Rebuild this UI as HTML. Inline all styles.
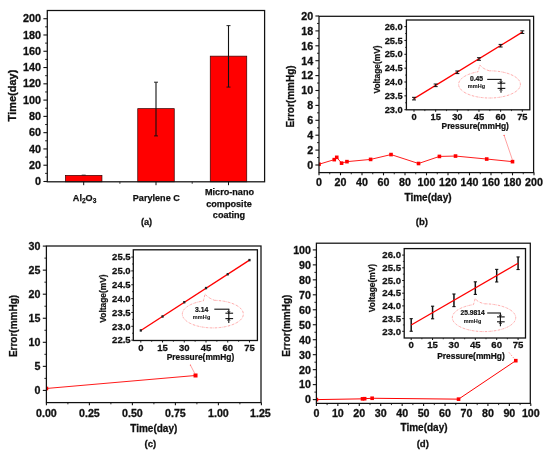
<!DOCTYPE html>
<html><head><meta charset="utf-8"><title>Figure</title>
<style>
html,body{margin:0;padding:0;background:#fff;}
body{width:550px;height:457px;overflow:hidden;}
svg{display:block;font-family:"Liberation Sans",Arial,sans-serif;filter:blur(0.4px);}
</style></head><body>
<svg width="550" height="457" viewBox="0 0 550 457">
<rect x="0" y="0" width="550" height="457" fill="#fff"/>
<rect x="65.45" y="175.40" width="36.50" height="6.41" fill="#f00" stroke="#300" stroke-width="0.7"/>
<rect x="137.75" y="108.65" width="36.50" height="73.15" fill="#f00" stroke="#300" stroke-width="0.7"/>
<rect x="210.25" y="56.14" width="36.50" height="125.66" fill="#f00" stroke="#300" stroke-width="0.7"/>
<line x1="81.70" y1="175.00" x2="85.70" y2="175.00" stroke="#111" stroke-width="0.6" />
<line x1="156.00" y1="135.92" x2="156.00" y2="82.19" stroke="#111" stroke-width="1.1" />
<line x1="154.00" y1="135.92" x2="158.00" y2="135.92" stroke="#111" stroke-width="0.9" />
<line x1="154.00" y1="82.19" x2="158.00" y2="82.19" stroke="#111" stroke-width="0.9" />
<line x1="228.50" y1="87.08" x2="228.50" y2="25.62" stroke="#111" stroke-width="1.1" />
<line x1="226.50" y1="87.08" x2="230.50" y2="87.08" stroke="#111" stroke-width="0.9" />
<line x1="226.50" y1="25.62" x2="230.50" y2="25.62" stroke="#111" stroke-width="0.9" />
<rect x="47.30" y="10.50" width="217.30" height="171.30" fill="none" stroke="#111" stroke-width="1.25"/>
<line x1="43.40" y1="181.50" x2="47.30" y2="181.50" stroke="#111" stroke-width="1.1" />
<text x="41.00" y="185.09" font-size="10.8" text-anchor="end" font-weight="bold" fill="#111" stroke="#111" stroke-width="0.30" >0</text>
<line x1="45.10" y1="173.36" x2="47.30" y2="173.36" stroke="#111" stroke-width="0.9" />
<line x1="43.40" y1="165.22" x2="47.30" y2="165.22" stroke="#111" stroke-width="1.1" />
<text x="41.00" y="168.81" font-size="10.8" text-anchor="end" font-weight="bold" fill="#111" stroke="#111" stroke-width="0.30" >20</text>
<line x1="45.10" y1="157.08" x2="47.30" y2="157.08" stroke="#111" stroke-width="0.9" />
<line x1="43.40" y1="148.94" x2="47.30" y2="148.94" stroke="#111" stroke-width="1.1" />
<text x="41.00" y="152.53" font-size="10.8" text-anchor="end" font-weight="bold" fill="#111" stroke="#111" stroke-width="0.30" >40</text>
<line x1="45.10" y1="140.80" x2="47.30" y2="140.80" stroke="#111" stroke-width="0.9" />
<line x1="43.40" y1="132.66" x2="47.30" y2="132.66" stroke="#111" stroke-width="1.1" />
<text x="41.00" y="136.25" font-size="10.8" text-anchor="end" font-weight="bold" fill="#111" stroke="#111" stroke-width="0.30" >60</text>
<line x1="45.10" y1="124.52" x2="47.30" y2="124.52" stroke="#111" stroke-width="0.9" />
<line x1="43.40" y1="116.38" x2="47.30" y2="116.38" stroke="#111" stroke-width="1.1" />
<text x="41.00" y="119.97" font-size="10.8" text-anchor="end" font-weight="bold" fill="#111" stroke="#111" stroke-width="0.30" >80</text>
<line x1="45.10" y1="108.24" x2="47.30" y2="108.24" stroke="#111" stroke-width="0.9" />
<line x1="43.40" y1="100.10" x2="47.30" y2="100.10" stroke="#111" stroke-width="1.1" />
<text x="41.00" y="103.69" font-size="10.8" text-anchor="end" font-weight="bold" fill="#111" stroke="#111" stroke-width="0.30" >100</text>
<line x1="45.10" y1="91.96" x2="47.30" y2="91.96" stroke="#111" stroke-width="0.9" />
<line x1="43.40" y1="83.82" x2="47.30" y2="83.82" stroke="#111" stroke-width="1.1" />
<text x="41.00" y="87.41" font-size="10.8" text-anchor="end" font-weight="bold" fill="#111" stroke="#111" stroke-width="0.30" >120</text>
<line x1="45.10" y1="75.68" x2="47.30" y2="75.68" stroke="#111" stroke-width="0.9" />
<line x1="43.40" y1="67.54" x2="47.30" y2="67.54" stroke="#111" stroke-width="1.1" />
<text x="41.00" y="71.13" font-size="10.8" text-anchor="end" font-weight="bold" fill="#111" stroke="#111" stroke-width="0.30" >140</text>
<line x1="45.10" y1="59.40" x2="47.30" y2="59.40" stroke="#111" stroke-width="0.9" />
<line x1="43.40" y1="51.26" x2="47.30" y2="51.26" stroke="#111" stroke-width="1.1" />
<text x="41.00" y="54.85" font-size="10.8" text-anchor="end" font-weight="bold" fill="#111" stroke="#111" stroke-width="0.30" >160</text>
<line x1="45.10" y1="43.12" x2="47.30" y2="43.12" stroke="#111" stroke-width="0.9" />
<line x1="43.40" y1="34.98" x2="47.30" y2="34.98" stroke="#111" stroke-width="1.1" />
<text x="41.00" y="38.57" font-size="10.8" text-anchor="end" font-weight="bold" fill="#111" stroke="#111" stroke-width="0.30" >180</text>
<line x1="45.10" y1="26.84" x2="47.30" y2="26.84" stroke="#111" stroke-width="0.9" />
<line x1="43.40" y1="18.70" x2="47.30" y2="18.70" stroke="#111" stroke-width="1.1" />
<text x="41.00" y="22.29" font-size="10.8" text-anchor="end" font-weight="bold" fill="#111" stroke="#111" stroke-width="0.30" >200</text>
<line x1="83.70" y1="181.80" x2="83.70" y2="185.20" stroke="#111" stroke-width="1.0" />
<line x1="156.00" y1="181.80" x2="156.00" y2="185.20" stroke="#111" stroke-width="1.0" />
<line x1="228.50" y1="181.80" x2="228.50" y2="185.20" stroke="#111" stroke-width="1.0" />
<line x1="119.90" y1="181.80" x2="119.90" y2="183.80" stroke="#111" stroke-width="0.8" />
<line x1="192.20" y1="181.80" x2="192.20" y2="183.80" stroke="#111" stroke-width="0.8" />
<text transform="translate(16.00 95.50) rotate(-90)" font-size="11" text-anchor="middle" font-weight="bold" fill="#111" stroke="#111" stroke-width="0.31" >Time(day)</text>
<text x="84.60" y="201.40" font-size="9.1" text-anchor="middle" font-weight="bold" fill="#111" stroke="#111" stroke-width="0.25" >Al<tspan font-size="6.6" dy="1.8">2</tspan><tspan dy="-1.8">O</tspan><tspan font-size="6.6" dy="1.8">3</tspan></text>
<text x="156.30" y="201.30" font-size="9.1" text-anchor="middle" font-weight="bold" fill="#111" stroke="#111" stroke-width="0.25" >Parylene C</text>
<text x="229.50" y="195.30" font-size="9.1" text-anchor="middle" font-weight="bold" fill="#111" stroke="#111" stroke-width="0.25" >Micro-nano</text>
<text x="229.00" y="206.80" font-size="9.1" text-anchor="middle" font-weight="bold" fill="#111" stroke="#111" stroke-width="0.25" >composite</text>
<text x="229.00" y="218.40" font-size="9.1" text-anchor="middle" font-weight="bold" fill="#111" stroke="#111" stroke-width="0.25" >coating</text>
<text x="146.50" y="225.40" font-size="9.2" text-anchor="middle" font-weight="bold" fill="#111" stroke="#111" stroke-width="0.26" >(a)</text>
<clipPath id="cp1"><rect x="319.00" y="16.30" width="214.60" height="156.30"/></clipPath><g clip-path="url(#cp1)">
<polyline fill="none" stroke="#f00" stroke-width="0.9" points="319.00,164.25 334.26,159.64 336.74,157.33 341.57,163.14 346.95,161.65 370.60,159.41 391.02,154.57 418.54,163.51 439.40,156.43 455.52,156.06 486.70,159.04 512.50,161.65"/>
<rect x="317.20" y="162.45" width="3.6" height="3.6" fill="#f00"/>
<rect x="332.46" y="157.84" width="3.6" height="3.6" fill="#f00"/>
<rect x="334.94" y="155.53" width="3.6" height="3.6" fill="#f00"/>
<rect x="339.77" y="161.34" width="3.6" height="3.6" fill="#f00"/>
<rect x="345.15" y="159.85" width="3.6" height="3.6" fill="#f00"/>
<rect x="368.80" y="157.61" width="3.6" height="3.6" fill="#f00"/>
<rect x="389.22" y="152.77" width="3.6" height="3.6" fill="#f00"/>
<rect x="416.74" y="161.71" width="3.6" height="3.6" fill="#f00"/>
<rect x="437.60" y="154.63" width="3.6" height="3.6" fill="#f00"/>
<rect x="453.72" y="154.26" width="3.6" height="3.6" fill="#f00"/>
<rect x="484.90" y="157.24" width="3.6" height="3.6" fill="#f00"/>
<rect x="510.70" y="159.85" width="3.6" height="3.6" fill="#f00"/>
</g>
<rect x="319.00" y="16.30" width="214.60" height="156.30" fill="none" stroke="#111" stroke-width="1.25"/>
<line x1="315.40" y1="165.00" x2="319.00" y2="165.00" stroke="#111" stroke-width="1.1" />
<text x="313.20" y="168.85" font-size="10.7" text-anchor="end" font-weight="bold" fill="#111" stroke="#111" stroke-width="0.30" >0</text>
<line x1="317.00" y1="157.55" x2="319.00" y2="157.55" stroke="#111" stroke-width="0.9" />
<line x1="315.40" y1="150.10" x2="319.00" y2="150.10" stroke="#111" stroke-width="1.1" />
<text x="313.20" y="153.95" font-size="10.7" text-anchor="end" font-weight="bold" fill="#111" stroke="#111" stroke-width="0.30" >2</text>
<line x1="317.00" y1="142.65" x2="319.00" y2="142.65" stroke="#111" stroke-width="0.9" />
<line x1="315.40" y1="135.20" x2="319.00" y2="135.20" stroke="#111" stroke-width="1.1" />
<text x="313.20" y="139.05" font-size="10.7" text-anchor="end" font-weight="bold" fill="#111" stroke="#111" stroke-width="0.30" >4</text>
<line x1="317.00" y1="127.75" x2="319.00" y2="127.75" stroke="#111" stroke-width="0.9" />
<line x1="315.40" y1="120.30" x2="319.00" y2="120.30" stroke="#111" stroke-width="1.1" />
<text x="313.20" y="124.15" font-size="10.7" text-anchor="end" font-weight="bold" fill="#111" stroke="#111" stroke-width="0.30" >6</text>
<line x1="317.00" y1="112.85" x2="319.00" y2="112.85" stroke="#111" stroke-width="0.9" />
<line x1="315.40" y1="105.40" x2="319.00" y2="105.40" stroke="#111" stroke-width="1.1" />
<text x="313.20" y="109.25" font-size="10.7" text-anchor="end" font-weight="bold" fill="#111" stroke="#111" stroke-width="0.30" >8</text>
<line x1="317.00" y1="97.95" x2="319.00" y2="97.95" stroke="#111" stroke-width="0.9" />
<line x1="315.40" y1="90.50" x2="319.00" y2="90.50" stroke="#111" stroke-width="1.1" />
<text x="313.20" y="94.35" font-size="10.7" text-anchor="end" font-weight="bold" fill="#111" stroke="#111" stroke-width="0.30" >10</text>
<line x1="317.00" y1="83.05" x2="319.00" y2="83.05" stroke="#111" stroke-width="0.9" />
<line x1="315.40" y1="75.60" x2="319.00" y2="75.60" stroke="#111" stroke-width="1.1" />
<text x="313.20" y="79.45" font-size="10.7" text-anchor="end" font-weight="bold" fill="#111" stroke="#111" stroke-width="0.30" >12</text>
<line x1="317.00" y1="68.15" x2="319.00" y2="68.15" stroke="#111" stroke-width="0.9" />
<line x1="315.40" y1="60.70" x2="319.00" y2="60.70" stroke="#111" stroke-width="1.1" />
<text x="313.20" y="64.55" font-size="10.7" text-anchor="end" font-weight="bold" fill="#111" stroke="#111" stroke-width="0.30" >14</text>
<line x1="317.00" y1="53.25" x2="319.00" y2="53.25" stroke="#111" stroke-width="0.9" />
<line x1="315.40" y1="45.80" x2="319.00" y2="45.80" stroke="#111" stroke-width="1.1" />
<text x="313.20" y="49.65" font-size="10.7" text-anchor="end" font-weight="bold" fill="#111" stroke="#111" stroke-width="0.30" >16</text>
<line x1="317.00" y1="38.35" x2="319.00" y2="38.35" stroke="#111" stroke-width="0.9" />
<line x1="315.40" y1="30.90" x2="319.00" y2="30.90" stroke="#111" stroke-width="1.1" />
<text x="313.20" y="34.75" font-size="10.7" text-anchor="end" font-weight="bold" fill="#111" stroke="#111" stroke-width="0.30" >18</text>
<line x1="317.00" y1="23.45" x2="319.00" y2="23.45" stroke="#111" stroke-width="0.9" />
<line x1="315.40" y1="16.00" x2="319.00" y2="16.00" stroke="#111" stroke-width="1.1" />
<text x="313.20" y="19.85" font-size="10.7" text-anchor="end" font-weight="bold" fill="#111" stroke="#111" stroke-width="0.30" >20</text>
<line x1="319.00" y1="172.60" x2="319.00" y2="175.30" stroke="#111" stroke-width="1.1" />
<text x="319.00" y="186.25" font-size="10.7" text-anchor="middle" font-weight="bold" fill="#111" stroke="#111" stroke-width="0.30" >0</text>
<line x1="329.75" y1="172.60" x2="329.75" y2="174.30" stroke="#111" stroke-width="0.9" />
<line x1="340.50" y1="172.60" x2="340.50" y2="175.30" stroke="#111" stroke-width="1.1" />
<text x="340.50" y="186.25" font-size="10.7" text-anchor="middle" font-weight="bold" fill="#111" stroke="#111" stroke-width="0.30" >20</text>
<line x1="351.25" y1="172.60" x2="351.25" y2="174.30" stroke="#111" stroke-width="0.9" />
<line x1="362.00" y1="172.60" x2="362.00" y2="175.30" stroke="#111" stroke-width="1.1" />
<text x="362.00" y="186.25" font-size="10.7" text-anchor="middle" font-weight="bold" fill="#111" stroke="#111" stroke-width="0.30" >40</text>
<line x1="372.75" y1="172.60" x2="372.75" y2="174.30" stroke="#111" stroke-width="0.9" />
<line x1="383.50" y1="172.60" x2="383.50" y2="175.30" stroke="#111" stroke-width="1.1" />
<text x="383.50" y="186.25" font-size="10.7" text-anchor="middle" font-weight="bold" fill="#111" stroke="#111" stroke-width="0.30" >60</text>
<line x1="394.25" y1="172.60" x2="394.25" y2="174.30" stroke="#111" stroke-width="0.9" />
<line x1="405.00" y1="172.60" x2="405.00" y2="175.30" stroke="#111" stroke-width="1.1" />
<text x="405.00" y="186.25" font-size="10.7" text-anchor="middle" font-weight="bold" fill="#111" stroke="#111" stroke-width="0.30" >80</text>
<line x1="415.75" y1="172.60" x2="415.75" y2="174.30" stroke="#111" stroke-width="0.9" />
<line x1="426.50" y1="172.60" x2="426.50" y2="175.30" stroke="#111" stroke-width="1.1" />
<text x="426.50" y="186.25" font-size="10.7" text-anchor="middle" font-weight="bold" fill="#111" stroke="#111" stroke-width="0.30" >100</text>
<line x1="437.25" y1="172.60" x2="437.25" y2="174.30" stroke="#111" stroke-width="0.9" />
<line x1="448.00" y1="172.60" x2="448.00" y2="175.30" stroke="#111" stroke-width="1.1" />
<text x="448.00" y="186.25" font-size="10.7" text-anchor="middle" font-weight="bold" fill="#111" stroke="#111" stroke-width="0.30" >120</text>
<line x1="458.75" y1="172.60" x2="458.75" y2="174.30" stroke="#111" stroke-width="0.9" />
<line x1="469.50" y1="172.60" x2="469.50" y2="175.30" stroke="#111" stroke-width="1.1" />
<text x="469.50" y="186.25" font-size="10.7" text-anchor="middle" font-weight="bold" fill="#111" stroke="#111" stroke-width="0.30" >140</text>
<line x1="480.25" y1="172.60" x2="480.25" y2="174.30" stroke="#111" stroke-width="0.9" />
<line x1="491.00" y1="172.60" x2="491.00" y2="175.30" stroke="#111" stroke-width="1.1" />
<text x="491.00" y="186.25" font-size="10.7" text-anchor="middle" font-weight="bold" fill="#111" stroke="#111" stroke-width="0.30" >160</text>
<line x1="501.75" y1="172.60" x2="501.75" y2="174.30" stroke="#111" stroke-width="0.9" />
<line x1="512.50" y1="172.60" x2="512.50" y2="175.30" stroke="#111" stroke-width="1.1" />
<text x="512.50" y="186.25" font-size="10.7" text-anchor="middle" font-weight="bold" fill="#111" stroke="#111" stroke-width="0.30" >180</text>
<line x1="523.25" y1="172.60" x2="523.25" y2="174.30" stroke="#111" stroke-width="0.9" />
<line x1="534.00" y1="172.60" x2="534.00" y2="175.30" stroke="#111" stroke-width="1.1" />
<text x="534.00" y="186.25" font-size="10.7" text-anchor="middle" font-weight="bold" fill="#111" stroke="#111" stroke-width="0.30" >200</text>
<text transform="translate(293.50 96.50) rotate(-90)" font-size="10" text-anchor="middle" font-weight="bold" fill="#111" stroke="#111" stroke-width="0.28" >Error(mmHg)</text>
<text x="428.00" y="201.20" font-size="10" text-anchor="middle" font-weight="bold" fill="#111" stroke="#111" stroke-width="0.28" >Time(day)</text>
<text x="421.90" y="225.20" font-size="9.6" text-anchor="middle" font-weight="bold" fill="#111" stroke="#111" stroke-width="0.27" >(b)</text>
<line x1="504.10" y1="135.40" x2="512.50" y2="160.15" stroke="#f44" stroke-width="0.5" />
<circle cx="504.1" cy="135.4" r="0.6" fill="#f44"/>
<rect x="406.40" y="20.00" width="123.40" height="89.80" fill="#fff" stroke="#111" stroke-width="1.3"/>
<line x1="404.40" y1="109.70" x2="406.40" y2="109.70" stroke="#111" stroke-width="1.0" />
<text x="402.80" y="112.85" font-size="9.3" text-anchor="end" font-weight="bold" fill="#111" stroke="#111" stroke-width="0.26" >23.0</text>
<line x1="405.10" y1="102.78" x2="406.40" y2="102.78" stroke="#111" stroke-width="0.8" />
<line x1="404.40" y1="95.85" x2="406.40" y2="95.85" stroke="#111" stroke-width="1.0" />
<text x="402.80" y="99.00" font-size="9.3" text-anchor="end" font-weight="bold" fill="#111" stroke="#111" stroke-width="0.26" >23.5</text>
<line x1="405.10" y1="88.93" x2="406.40" y2="88.93" stroke="#111" stroke-width="0.8" />
<line x1="404.40" y1="82.00" x2="406.40" y2="82.00" stroke="#111" stroke-width="1.0" />
<text x="402.80" y="85.15" font-size="9.3" text-anchor="end" font-weight="bold" fill="#111" stroke="#111" stroke-width="0.26" >24.0</text>
<line x1="405.10" y1="75.08" x2="406.40" y2="75.08" stroke="#111" stroke-width="0.8" />
<line x1="404.40" y1="68.15" x2="406.40" y2="68.15" stroke="#111" stroke-width="1.0" />
<text x="402.80" y="71.30" font-size="9.3" text-anchor="end" font-weight="bold" fill="#111" stroke="#111" stroke-width="0.26" >24.5</text>
<line x1="405.10" y1="61.23" x2="406.40" y2="61.23" stroke="#111" stroke-width="0.8" />
<line x1="404.40" y1="54.30" x2="406.40" y2="54.30" stroke="#111" stroke-width="1.0" />
<text x="402.80" y="57.45" font-size="9.3" text-anchor="end" font-weight="bold" fill="#111" stroke="#111" stroke-width="0.26" >25.0</text>
<line x1="405.10" y1="47.38" x2="406.40" y2="47.38" stroke="#111" stroke-width="0.8" />
<line x1="404.40" y1="40.45" x2="406.40" y2="40.45" stroke="#111" stroke-width="1.0" />
<text x="402.80" y="43.60" font-size="9.3" text-anchor="end" font-weight="bold" fill="#111" stroke="#111" stroke-width="0.26" >25.5</text>
<line x1="405.10" y1="33.53" x2="406.40" y2="33.53" stroke="#111" stroke-width="0.8" />
<line x1="404.40" y1="26.60" x2="406.40" y2="26.60" stroke="#111" stroke-width="1.0" />
<text x="402.80" y="29.75" font-size="9.3" text-anchor="end" font-weight="bold" fill="#111" stroke="#111" stroke-width="0.26" >26.0</text>
<line x1="414.00" y1="109.80" x2="414.00" y2="111.80" stroke="#111" stroke-width="1.0" />
<text x="414.00" y="120.45" font-size="9.3" text-anchor="middle" font-weight="bold" fill="#111" stroke="#111" stroke-width="0.26" >0</text>
<line x1="424.83" y1="109.80" x2="424.83" y2="111.10" stroke="#111" stroke-width="0.8" />
<line x1="435.66" y1="109.80" x2="435.66" y2="111.80" stroke="#111" stroke-width="1.0" />
<text x="435.66" y="120.45" font-size="9.3" text-anchor="middle" font-weight="bold" fill="#111" stroke="#111" stroke-width="0.26" >15</text>
<line x1="446.49" y1="109.80" x2="446.49" y2="111.10" stroke="#111" stroke-width="0.8" />
<line x1="457.32" y1="109.80" x2="457.32" y2="111.80" stroke="#111" stroke-width="1.0" />
<text x="457.32" y="120.45" font-size="9.3" text-anchor="middle" font-weight="bold" fill="#111" stroke="#111" stroke-width="0.26" >30</text>
<line x1="468.15" y1="109.80" x2="468.15" y2="111.10" stroke="#111" stroke-width="0.8" />
<line x1="478.98" y1="109.80" x2="478.98" y2="111.80" stroke="#111" stroke-width="1.0" />
<text x="478.98" y="120.45" font-size="9.3" text-anchor="middle" font-weight="bold" fill="#111" stroke="#111" stroke-width="0.26" >45</text>
<line x1="489.81" y1="109.80" x2="489.81" y2="111.10" stroke="#111" stroke-width="0.8" />
<line x1="500.64" y1="109.80" x2="500.64" y2="111.80" stroke="#111" stroke-width="1.0" />
<text x="500.64" y="120.45" font-size="9.3" text-anchor="middle" font-weight="bold" fill="#111" stroke="#111" stroke-width="0.26" >60</text>
<line x1="511.47" y1="109.80" x2="511.47" y2="111.10" stroke="#111" stroke-width="0.8" />
<line x1="522.30" y1="109.80" x2="522.30" y2="111.80" stroke="#111" stroke-width="1.0" />
<text x="522.30" y="120.45" font-size="9.3" text-anchor="middle" font-weight="bold" fill="#111" stroke="#111" stroke-width="0.26" >75</text>
<text transform="translate(379.50 69.50) rotate(-90)" font-size="8.35" text-anchor="middle" font-weight="bold" fill="#111" stroke="#111" stroke-width="0.23" >Voltage(mV)</text>
<text x="475.20" y="128.91" font-size="8.35" text-anchor="middle" font-weight="bold" fill="#111" stroke="#111" stroke-width="0.23" >Pressure(mmHg)</text>
<line x1="414.00" y1="98.62" x2="522.30" y2="32.14" stroke="#f00" stroke-width="1.3" />
<line x1="414.00" y1="97.32" x2="414.00" y2="99.92" stroke="#111" stroke-width="1.1" />
<line x1="412.00" y1="97.32" x2="416.00" y2="97.32" stroke="#111" stroke-width="1.0" />
<line x1="412.00" y1="99.92" x2="416.00" y2="99.92" stroke="#111" stroke-width="1.0" />
<line x1="435.66" y1="84.02" x2="435.66" y2="86.62" stroke="#111" stroke-width="1.1" />
<line x1="433.66" y1="84.02" x2="437.66" y2="84.02" stroke="#111" stroke-width="1.0" />
<line x1="433.66" y1="86.62" x2="437.66" y2="86.62" stroke="#111" stroke-width="1.0" />
<line x1="457.32" y1="71.00" x2="457.32" y2="73.60" stroke="#111" stroke-width="1.1" />
<line x1="455.32" y1="71.00" x2="459.32" y2="71.00" stroke="#111" stroke-width="1.0" />
<line x1="455.32" y1="73.60" x2="459.32" y2="73.60" stroke="#111" stroke-width="1.0" />
<line x1="478.98" y1="57.71" x2="478.98" y2="60.31" stroke="#111" stroke-width="1.1" />
<line x1="476.98" y1="57.71" x2="480.98" y2="57.71" stroke="#111" stroke-width="1.0" />
<line x1="476.98" y1="60.31" x2="480.98" y2="60.31" stroke="#111" stroke-width="1.0" />
<line x1="500.64" y1="44.41" x2="500.64" y2="47.01" stroke="#111" stroke-width="1.1" />
<line x1="498.64" y1="44.41" x2="502.64" y2="44.41" stroke="#111" stroke-width="1.0" />
<line x1="498.64" y1="47.01" x2="502.64" y2="47.01" stroke="#111" stroke-width="1.0" />
<line x1="522.30" y1="30.84" x2="522.30" y2="33.44" stroke="#111" stroke-width="1.1" />
<line x1="520.30" y1="30.84" x2="524.30" y2="30.84" stroke="#111" stroke-width="1.0" />
<line x1="520.30" y1="33.44" x2="524.30" y2="33.44" stroke="#111" stroke-width="1.0" />
<path d="M489.30 70.80 A30.90 13.60 0 1 1 478.00 71.78 Q479.00 68.29 479.80 64.80 Q482.30 68.60 489.30 70.80" fill="#fff" stroke="#f44" stroke-width="0.6" stroke-dasharray="2.2 0.8 0.6 0.8" opacity="0.75"/>
<text x="476.50" y="81.45" font-size="6.8" text-anchor="middle" font-weight="bold" fill="#111" stroke="#111" stroke-width="0.20" >0.45</text>
<text x="476.50" y="87.98" font-size="5.5" text-anchor="middle" font-weight="bold" fill="#111" stroke="#111" stroke-width="0.08" letter-spacing="0.15">mmHg</text>
<line x1="487.20" y1="79.40" x2="501.50" y2="79.40" stroke="#111" stroke-width="1.1" />
<line x1="501.00" y1="79.40" x2="501.00" y2="92.80" stroke="#111" stroke-width="1.1" />
<line x1="497.60" y1="83.20" x2="505.30" y2="83.20" stroke="#111" stroke-width="1.1" />
<line x1="497.60" y1="88.40" x2="505.30" y2="88.40" stroke="#111" stroke-width="1.1" />
<path d="M499.70 81.00 L501.00 83.20 L502.30 81.00 M499.70 90.60 L501.00 88.40 L502.30 90.60" stroke="#111" stroke-width="0.7" fill="none"/>
<clipPath id="cp2"><rect x="46.40" y="246.00" width="214.60" height="156.60"/></clipPath><g clip-path="url(#cp2)">
<polyline fill="none" stroke="#f00" stroke-width="0.9" points="46.40,388.48 195.52,375.49"/>
<rect x="44.60" y="386.68" width="3.6" height="3.6" fill="#f00"/>
<rect x="193.52" y="373.49" width="4" height="4" fill="#f00"/>
</g>
<rect x="46.40" y="246.00" width="214.60" height="156.60" fill="none" stroke="#111" stroke-width="1.25"/>
<line x1="42.80" y1="390.40" x2="46.40" y2="390.40" stroke="#111" stroke-width="1.1" />
<text x="40.40" y="394.25" font-size="10.7" text-anchor="end" font-weight="bold" fill="#111" stroke="#111" stroke-width="0.30" >0</text>
<line x1="44.40" y1="378.38" x2="46.40" y2="378.38" stroke="#111" stroke-width="0.9" />
<line x1="42.80" y1="366.35" x2="46.40" y2="366.35" stroke="#111" stroke-width="1.1" />
<text x="40.40" y="370.20" font-size="10.7" text-anchor="end" font-weight="bold" fill="#111" stroke="#111" stroke-width="0.30" >5</text>
<line x1="44.40" y1="354.32" x2="46.40" y2="354.32" stroke="#111" stroke-width="0.9" />
<line x1="42.80" y1="342.30" x2="46.40" y2="342.30" stroke="#111" stroke-width="1.1" />
<text x="40.40" y="346.15" font-size="10.7" text-anchor="end" font-weight="bold" fill="#111" stroke="#111" stroke-width="0.30" >10</text>
<line x1="44.40" y1="330.27" x2="46.40" y2="330.27" stroke="#111" stroke-width="0.9" />
<line x1="42.80" y1="318.25" x2="46.40" y2="318.25" stroke="#111" stroke-width="1.1" />
<text x="40.40" y="322.10" font-size="10.7" text-anchor="end" font-weight="bold" fill="#111" stroke="#111" stroke-width="0.30" >15</text>
<line x1="44.40" y1="306.22" x2="46.40" y2="306.22" stroke="#111" stroke-width="0.9" />
<line x1="42.80" y1="294.20" x2="46.40" y2="294.20" stroke="#111" stroke-width="1.1" />
<text x="40.40" y="298.05" font-size="10.7" text-anchor="end" font-weight="bold" fill="#111" stroke="#111" stroke-width="0.30" >20</text>
<line x1="44.40" y1="282.17" x2="46.40" y2="282.17" stroke="#111" stroke-width="0.9" />
<line x1="42.80" y1="270.15" x2="46.40" y2="270.15" stroke="#111" stroke-width="1.1" />
<text x="40.40" y="274.00" font-size="10.7" text-anchor="end" font-weight="bold" fill="#111" stroke="#111" stroke-width="0.30" >25</text>
<line x1="44.40" y1="258.12" x2="46.40" y2="258.12" stroke="#111" stroke-width="0.9" />
<line x1="42.80" y1="246.10" x2="46.40" y2="246.10" stroke="#111" stroke-width="1.1" />
<text x="40.40" y="249.95" font-size="10.7" text-anchor="end" font-weight="bold" fill="#111" stroke="#111" stroke-width="0.30" >30</text>
<line x1="46.40" y1="402.60" x2="46.40" y2="405.30" stroke="#111" stroke-width="1.1" />
<text x="46.40" y="416.85" font-size="10.7" text-anchor="middle" font-weight="bold" fill="#111" stroke="#111" stroke-width="0.30" >0.00</text>
<line x1="67.90" y1="402.60" x2="67.90" y2="404.30" stroke="#111" stroke-width="0.9" />
<line x1="89.40" y1="402.60" x2="89.40" y2="405.30" stroke="#111" stroke-width="1.1" />
<text x="89.40" y="416.85" font-size="10.7" text-anchor="middle" font-weight="bold" fill="#111" stroke="#111" stroke-width="0.30" >0.25</text>
<line x1="110.90" y1="402.60" x2="110.90" y2="404.30" stroke="#111" stroke-width="0.9" />
<line x1="132.40" y1="402.60" x2="132.40" y2="405.30" stroke="#111" stroke-width="1.1" />
<text x="132.40" y="416.85" font-size="10.7" text-anchor="middle" font-weight="bold" fill="#111" stroke="#111" stroke-width="0.30" >0.50</text>
<line x1="153.90" y1="402.60" x2="153.90" y2="404.30" stroke="#111" stroke-width="0.9" />
<line x1="175.40" y1="402.60" x2="175.40" y2="405.30" stroke="#111" stroke-width="1.1" />
<text x="175.40" y="416.85" font-size="10.7" text-anchor="middle" font-weight="bold" fill="#111" stroke="#111" stroke-width="0.30" >0.75</text>
<line x1="196.90" y1="402.60" x2="196.90" y2="404.30" stroke="#111" stroke-width="0.9" />
<line x1="218.40" y1="402.60" x2="218.40" y2="405.30" stroke="#111" stroke-width="1.1" />
<text x="218.40" y="416.85" font-size="10.7" text-anchor="middle" font-weight="bold" fill="#111" stroke="#111" stroke-width="0.30" >1.00</text>
<line x1="239.90" y1="402.60" x2="239.90" y2="404.30" stroke="#111" stroke-width="0.9" />
<line x1="261.40" y1="402.60" x2="261.40" y2="405.30" stroke="#111" stroke-width="1.1" />
<text x="260.40" y="416.85" font-size="10.7" text-anchor="middle" font-weight="bold" fill="#111" stroke="#111" stroke-width="0.30" >1.25</text>
<text transform="translate(17.00 326.00) rotate(-90)" font-size="10" text-anchor="middle" font-weight="bold" fill="#111" stroke="#111" stroke-width="0.28" >Error(mmHg)</text>
<text x="153.80" y="432.10" font-size="10" text-anchor="middle" font-weight="bold" fill="#111" stroke="#111" stroke-width="0.28" >Time(day)</text>
<text x="150.40" y="447.30" font-size="9.6" text-anchor="middle" font-weight="bold" fill="#111" stroke="#111" stroke-width="0.27" >(c)</text>
<line x1="190.40" y1="365.00" x2="195.00" y2="374.00" stroke="#f44" stroke-width="0.5" />
<circle cx="190.4" cy="365" r="0.6" fill="#f44"/>
<rect x="133.30" y="249.80" width="124.10" height="90.70" fill="#fff" stroke="#111" stroke-width="1.3"/>
<line x1="131.30" y1="340.15" x2="133.30" y2="340.15" stroke="#111" stroke-width="1.0" />
<text x="130.60" y="343.37" font-size="9.5" text-anchor="end" font-weight="bold" fill="#111" stroke="#111" stroke-width="0.27" >22.5</text>
<line x1="132.00" y1="333.23" x2="133.30" y2="333.23" stroke="#111" stroke-width="0.8" />
<line x1="131.30" y1="326.30" x2="133.30" y2="326.30" stroke="#111" stroke-width="1.0" />
<text x="130.60" y="329.52" font-size="9.5" text-anchor="end" font-weight="bold" fill="#111" stroke="#111" stroke-width="0.27" >23.0</text>
<line x1="132.00" y1="319.38" x2="133.30" y2="319.38" stroke="#111" stroke-width="0.8" />
<line x1="131.30" y1="312.45" x2="133.30" y2="312.45" stroke="#111" stroke-width="1.0" />
<text x="130.60" y="315.67" font-size="9.5" text-anchor="end" font-weight="bold" fill="#111" stroke="#111" stroke-width="0.27" >23.5</text>
<line x1="132.00" y1="305.53" x2="133.30" y2="305.53" stroke="#111" stroke-width="0.8" />
<line x1="131.30" y1="298.60" x2="133.30" y2="298.60" stroke="#111" stroke-width="1.0" />
<text x="130.60" y="301.82" font-size="9.5" text-anchor="end" font-weight="bold" fill="#111" stroke="#111" stroke-width="0.27" >24.0</text>
<line x1="132.00" y1="291.68" x2="133.30" y2="291.68" stroke="#111" stroke-width="0.8" />
<line x1="131.30" y1="284.75" x2="133.30" y2="284.75" stroke="#111" stroke-width="1.0" />
<text x="130.60" y="287.97" font-size="9.5" text-anchor="end" font-weight="bold" fill="#111" stroke="#111" stroke-width="0.27" >24.5</text>
<line x1="132.00" y1="277.82" x2="133.30" y2="277.82" stroke="#111" stroke-width="0.8" />
<line x1="131.30" y1="270.90" x2="133.30" y2="270.90" stroke="#111" stroke-width="1.0" />
<text x="130.60" y="274.12" font-size="9.5" text-anchor="end" font-weight="bold" fill="#111" stroke="#111" stroke-width="0.27" >25.0</text>
<line x1="132.00" y1="263.98" x2="133.30" y2="263.98" stroke="#111" stroke-width="0.8" />
<line x1="131.30" y1="257.05" x2="133.30" y2="257.05" stroke="#111" stroke-width="1.0" />
<text x="130.60" y="260.27" font-size="9.5" text-anchor="end" font-weight="bold" fill="#111" stroke="#111" stroke-width="0.27" >25.5</text>
<line x1="140.80" y1="340.50" x2="140.80" y2="342.50" stroke="#111" stroke-width="1.0" />
<text x="140.80" y="351.42" font-size="9.5" text-anchor="middle" font-weight="bold" fill="#111" stroke="#111" stroke-width="0.27" >0</text>
<line x1="151.67" y1="340.50" x2="151.67" y2="341.80" stroke="#111" stroke-width="0.8" />
<line x1="162.54" y1="340.50" x2="162.54" y2="342.50" stroke="#111" stroke-width="1.0" />
<text x="162.54" y="351.42" font-size="9.5" text-anchor="middle" font-weight="bold" fill="#111" stroke="#111" stroke-width="0.27" >15</text>
<line x1="173.40" y1="340.50" x2="173.40" y2="341.80" stroke="#111" stroke-width="0.8" />
<line x1="184.27" y1="340.50" x2="184.27" y2="342.50" stroke="#111" stroke-width="1.0" />
<text x="184.27" y="351.42" font-size="9.5" text-anchor="middle" font-weight="bold" fill="#111" stroke="#111" stroke-width="0.27" >30</text>
<line x1="195.14" y1="340.50" x2="195.14" y2="341.80" stroke="#111" stroke-width="0.8" />
<line x1="206.00" y1="340.50" x2="206.00" y2="342.50" stroke="#111" stroke-width="1.0" />
<text x="206.00" y="351.42" font-size="9.5" text-anchor="middle" font-weight="bold" fill="#111" stroke="#111" stroke-width="0.27" >45</text>
<line x1="216.87" y1="340.50" x2="216.87" y2="341.80" stroke="#111" stroke-width="0.8" />
<line x1="227.74" y1="340.50" x2="227.74" y2="342.50" stroke="#111" stroke-width="1.0" />
<text x="227.74" y="351.42" font-size="9.5" text-anchor="middle" font-weight="bold" fill="#111" stroke="#111" stroke-width="0.27" >60</text>
<line x1="238.61" y1="340.50" x2="238.61" y2="341.80" stroke="#111" stroke-width="0.8" />
<line x1="249.48" y1="340.50" x2="249.48" y2="342.50" stroke="#111" stroke-width="1.0" />
<text x="249.48" y="351.42" font-size="9.5" text-anchor="middle" font-weight="bold" fill="#111" stroke="#111" stroke-width="0.27" >75</text>
<text transform="translate(105.50 298.50) rotate(-90)" font-size="8.4" text-anchor="middle" font-weight="bold" fill="#111" stroke="#111" stroke-width="0.24" >Voltage(mV)</text>
<text x="200.50" y="360.32" font-size="8.4" text-anchor="middle" font-weight="bold" fill="#111" stroke="#111" stroke-width="0.24" >Pressure(mmHg)</text>
<line x1="140.80" y1="330.45" x2="249.48" y2="260.10" stroke="#f00" stroke-width="1.3" />
<rect x="139.70" y="329.25" width="2.2" height="2.4" fill="#222"/>
<rect x="161.44" y="315.27" width="2.2" height="2.4" fill="#222"/>
<rect x="183.17" y="301.00" width="2.2" height="2.4" fill="#222"/>
<rect x="204.91" y="286.87" width="2.2" height="2.4" fill="#222"/>
<rect x="226.64" y="273.02" width="2.2" height="2.4" fill="#222"/>
<rect x="248.38" y="258.90" width="2.2" height="2.4" fill="#222"/>
<path d="M214.60 300.32 A30.50 13.80 0 1 1 203.30 300.99 Q204.30 297.44 205.10 293.90 Q207.60 297.70 214.60 300.32" fill="#fff" stroke="#f44" stroke-width="0.6" stroke-dasharray="2.2 0.8 0.6 0.8" opacity="0.75"/>
<text x="201.60" y="312.45" font-size="6.8" text-anchor="middle" font-weight="bold" fill="#111" stroke="#111" stroke-width="0.20" >3.14</text>
<text x="201.60" y="318.98" font-size="5.5" text-anchor="middle" font-weight="bold" fill="#111" stroke="#111" stroke-width="0.08" letter-spacing="0.15">mmHg</text>
<line x1="214.30" y1="309.20" x2="229.30" y2="309.20" stroke="#111" stroke-width="1.1" />
<line x1="228.80" y1="309.20" x2="228.80" y2="323.00" stroke="#111" stroke-width="1.1" />
<line x1="225.40" y1="313.20" x2="233.10" y2="313.20" stroke="#111" stroke-width="1.1" />
<line x1="225.40" y1="318.60" x2="233.10" y2="318.60" stroke="#111" stroke-width="1.1" />
<path d="M227.50 311.00 L228.80 313.20 L230.10 311.00 M227.50 320.80 L228.80 318.60 L230.10 320.80" stroke="#111" stroke-width="0.7" fill="none"/>
<clipPath id="cp3"><rect x="316.40" y="243.20" width="213.90" height="160.20"/></clipPath><g clip-path="url(#cp3)">
<polyline fill="none" stroke="#f00" stroke-width="1.0" points="316.40,399.60 362.50,398.85 364.64,398.70 372.14,398.25 458.55,399.15 515.79,360.68"/>
<rect x="314.60" y="397.80" width="3.6" height="3.6" fill="#f00"/>
<rect x="360.70" y="397.05" width="3.6" height="3.6" fill="#f00"/>
<rect x="362.84" y="396.90" width="3.6" height="3.6" fill="#f00"/>
<rect x="370.34" y="396.45" width="3.6" height="3.6" fill="#f00"/>
<rect x="456.75" y="397.35" width="3.6" height="3.6" fill="#f00"/>
<rect x="513.99" y="358.88" width="3.6" height="3.6" fill="#f00"/>
</g>
<rect x="316.40" y="243.20" width="213.90" height="160.20" fill="none" stroke="#111" stroke-width="1.25"/>
<line x1="312.80" y1="399.60" x2="316.40" y2="399.60" stroke="#111" stroke-width="1.1" />
<text x="311.00" y="403.45" font-size="10.7" text-anchor="end" font-weight="bold" fill="#111" stroke="#111" stroke-width="0.30" >0</text>
<line x1="314.40" y1="392.12" x2="316.40" y2="392.12" stroke="#111" stroke-width="0.9" />
<line x1="312.80" y1="384.63" x2="316.40" y2="384.63" stroke="#111" stroke-width="1.1" />
<text x="311.00" y="388.48" font-size="10.7" text-anchor="end" font-weight="bold" fill="#111" stroke="#111" stroke-width="0.30" >10</text>
<line x1="314.40" y1="377.15" x2="316.40" y2="377.15" stroke="#111" stroke-width="0.9" />
<line x1="312.80" y1="369.66" x2="316.40" y2="369.66" stroke="#111" stroke-width="1.1" />
<text x="311.00" y="373.51" font-size="10.7" text-anchor="end" font-weight="bold" fill="#111" stroke="#111" stroke-width="0.30" >20</text>
<line x1="314.40" y1="362.18" x2="316.40" y2="362.18" stroke="#111" stroke-width="0.9" />
<line x1="312.80" y1="354.69" x2="316.40" y2="354.69" stroke="#111" stroke-width="1.1" />
<text x="311.00" y="358.54" font-size="10.7" text-anchor="end" font-weight="bold" fill="#111" stroke="#111" stroke-width="0.30" >30</text>
<line x1="314.40" y1="347.21" x2="316.40" y2="347.21" stroke="#111" stroke-width="0.9" />
<line x1="312.80" y1="339.72" x2="316.40" y2="339.72" stroke="#111" stroke-width="1.1" />
<text x="311.00" y="343.57" font-size="10.7" text-anchor="end" font-weight="bold" fill="#111" stroke="#111" stroke-width="0.30" >40</text>
<line x1="314.40" y1="332.24" x2="316.40" y2="332.24" stroke="#111" stroke-width="0.9" />
<line x1="312.80" y1="324.75" x2="316.40" y2="324.75" stroke="#111" stroke-width="1.1" />
<text x="311.00" y="328.60" font-size="10.7" text-anchor="end" font-weight="bold" fill="#111" stroke="#111" stroke-width="0.30" >50</text>
<line x1="314.40" y1="317.26" x2="316.40" y2="317.26" stroke="#111" stroke-width="0.9" />
<line x1="312.80" y1="309.78" x2="316.40" y2="309.78" stroke="#111" stroke-width="1.1" />
<text x="311.00" y="313.63" font-size="10.7" text-anchor="end" font-weight="bold" fill="#111" stroke="#111" stroke-width="0.30" >60</text>
<line x1="314.40" y1="302.30" x2="316.40" y2="302.30" stroke="#111" stroke-width="0.9" />
<line x1="312.80" y1="294.81" x2="316.40" y2="294.81" stroke="#111" stroke-width="1.1" />
<text x="311.00" y="298.66" font-size="10.7" text-anchor="end" font-weight="bold" fill="#111" stroke="#111" stroke-width="0.30" >70</text>
<line x1="314.40" y1="287.33" x2="316.40" y2="287.33" stroke="#111" stroke-width="0.9" />
<line x1="312.80" y1="279.84" x2="316.40" y2="279.84" stroke="#111" stroke-width="1.1" />
<text x="311.00" y="283.69" font-size="10.7" text-anchor="end" font-weight="bold" fill="#111" stroke="#111" stroke-width="0.30" >80</text>
<line x1="314.40" y1="272.36" x2="316.40" y2="272.36" stroke="#111" stroke-width="0.9" />
<line x1="312.80" y1="264.87" x2="316.40" y2="264.87" stroke="#111" stroke-width="1.1" />
<text x="311.00" y="268.72" font-size="10.7" text-anchor="end" font-weight="bold" fill="#111" stroke="#111" stroke-width="0.30" >90</text>
<line x1="314.40" y1="257.38" x2="316.40" y2="257.38" stroke="#111" stroke-width="0.9" />
<line x1="312.80" y1="249.90" x2="316.40" y2="249.90" stroke="#111" stroke-width="1.1" />
<text x="311.00" y="253.75" font-size="10.7" text-anchor="end" font-weight="bold" fill="#111" stroke="#111" stroke-width="0.30" >100</text>
<line x1="316.40" y1="403.40" x2="316.40" y2="406.10" stroke="#111" stroke-width="1.1" />
<text x="316.40" y="417.45" font-size="10.7" text-anchor="middle" font-weight="bold" fill="#111" stroke="#111" stroke-width="0.30" >0</text>
<line x1="327.12" y1="403.40" x2="327.12" y2="405.10" stroke="#111" stroke-width="0.9" />
<line x1="337.84" y1="403.40" x2="337.84" y2="406.10" stroke="#111" stroke-width="1.1" />
<text x="337.84" y="417.45" font-size="10.7" text-anchor="middle" font-weight="bold" fill="#111" stroke="#111" stroke-width="0.30" >10</text>
<line x1="348.56" y1="403.40" x2="348.56" y2="405.10" stroke="#111" stroke-width="0.9" />
<line x1="359.28" y1="403.40" x2="359.28" y2="406.10" stroke="#111" stroke-width="1.1" />
<text x="359.28" y="417.45" font-size="10.7" text-anchor="middle" font-weight="bold" fill="#111" stroke="#111" stroke-width="0.30" >20</text>
<line x1="370.00" y1="403.40" x2="370.00" y2="405.10" stroke="#111" stroke-width="0.9" />
<line x1="380.72" y1="403.40" x2="380.72" y2="406.10" stroke="#111" stroke-width="1.1" />
<text x="380.72" y="417.45" font-size="10.7" text-anchor="middle" font-weight="bold" fill="#111" stroke="#111" stroke-width="0.30" >30</text>
<line x1="391.44" y1="403.40" x2="391.44" y2="405.10" stroke="#111" stroke-width="0.9" />
<line x1="402.16" y1="403.40" x2="402.16" y2="406.10" stroke="#111" stroke-width="1.1" />
<text x="402.16" y="417.45" font-size="10.7" text-anchor="middle" font-weight="bold" fill="#111" stroke="#111" stroke-width="0.30" >40</text>
<line x1="412.88" y1="403.40" x2="412.88" y2="405.10" stroke="#111" stroke-width="0.9" />
<line x1="423.60" y1="403.40" x2="423.60" y2="406.10" stroke="#111" stroke-width="1.1" />
<text x="423.60" y="417.45" font-size="10.7" text-anchor="middle" font-weight="bold" fill="#111" stroke="#111" stroke-width="0.30" >50</text>
<line x1="434.32" y1="403.40" x2="434.32" y2="405.10" stroke="#111" stroke-width="0.9" />
<line x1="445.04" y1="403.40" x2="445.04" y2="406.10" stroke="#111" stroke-width="1.1" />
<text x="445.04" y="417.45" font-size="10.7" text-anchor="middle" font-weight="bold" fill="#111" stroke="#111" stroke-width="0.30" >60</text>
<line x1="455.76" y1="403.40" x2="455.76" y2="405.10" stroke="#111" stroke-width="0.9" />
<line x1="466.48" y1="403.40" x2="466.48" y2="406.10" stroke="#111" stroke-width="1.1" />
<text x="466.48" y="417.45" font-size="10.7" text-anchor="middle" font-weight="bold" fill="#111" stroke="#111" stroke-width="0.30" >70</text>
<line x1="477.20" y1="403.40" x2="477.20" y2="405.10" stroke="#111" stroke-width="0.9" />
<line x1="487.92" y1="403.40" x2="487.92" y2="406.10" stroke="#111" stroke-width="1.1" />
<text x="487.92" y="417.45" font-size="10.7" text-anchor="middle" font-weight="bold" fill="#111" stroke="#111" stroke-width="0.30" >80</text>
<line x1="498.64" y1="403.40" x2="498.64" y2="405.10" stroke="#111" stroke-width="0.9" />
<line x1="509.36" y1="403.40" x2="509.36" y2="406.10" stroke="#111" stroke-width="1.1" />
<text x="509.36" y="417.45" font-size="10.7" text-anchor="middle" font-weight="bold" fill="#111" stroke="#111" stroke-width="0.30" >90</text>
<line x1="520.08" y1="403.40" x2="520.08" y2="405.10" stroke="#111" stroke-width="0.9" />
<line x1="530.80" y1="403.40" x2="530.80" y2="406.10" stroke="#111" stroke-width="1.1" />
<text x="530.80" y="417.45" font-size="10.7" text-anchor="middle" font-weight="bold" fill="#111" stroke="#111" stroke-width="0.30" >100</text>
<text transform="translate(289.50 325.70) rotate(-90)" font-size="10" text-anchor="middle" font-weight="bold" fill="#111" stroke="#111" stroke-width="0.28" >Error(mmHg)</text>
<text x="424.00" y="431.40" font-size="10" text-anchor="middle" font-weight="bold" fill="#111" stroke="#111" stroke-width="0.28" >Time(day)</text>
<text x="422.80" y="447.30" font-size="9.6" text-anchor="middle" font-weight="bold" fill="#111" stroke="#111" stroke-width="0.27" >(d)</text>
<line x1="509.00" y1="352.40" x2="514.50" y2="359.00" stroke="#f55" stroke-width="0.6" stroke-dasharray="1.6 1.4"/>
<rect x="404.20" y="248.60" width="121.30" height="89.40" fill="#fff" stroke="#111" stroke-width="1.3"/>
<line x1="402.20" y1="331.30" x2="404.20" y2="331.30" stroke="#111" stroke-width="1.0" />
<text x="401.00" y="334.56" font-size="9.6" text-anchor="end" font-weight="bold" fill="#111" stroke="#111" stroke-width="0.27" >23.0</text>
<line x1="402.90" y1="324.95" x2="404.20" y2="324.95" stroke="#111" stroke-width="0.8" />
<line x1="402.20" y1="318.60" x2="404.20" y2="318.60" stroke="#111" stroke-width="1.0" />
<text x="401.00" y="321.86" font-size="9.6" text-anchor="end" font-weight="bold" fill="#111" stroke="#111" stroke-width="0.27" >23.5</text>
<line x1="402.90" y1="312.25" x2="404.20" y2="312.25" stroke="#111" stroke-width="0.8" />
<line x1="402.20" y1="305.90" x2="404.20" y2="305.90" stroke="#111" stroke-width="1.0" />
<text x="401.00" y="309.16" font-size="9.6" text-anchor="end" font-weight="bold" fill="#111" stroke="#111" stroke-width="0.27" >24.0</text>
<line x1="402.90" y1="299.55" x2="404.20" y2="299.55" stroke="#111" stroke-width="0.8" />
<line x1="402.20" y1="293.20" x2="404.20" y2="293.20" stroke="#111" stroke-width="1.0" />
<text x="401.00" y="296.46" font-size="9.6" text-anchor="end" font-weight="bold" fill="#111" stroke="#111" stroke-width="0.27" >24.5</text>
<line x1="402.90" y1="286.85" x2="404.20" y2="286.85" stroke="#111" stroke-width="0.8" />
<line x1="402.20" y1="280.50" x2="404.20" y2="280.50" stroke="#111" stroke-width="1.0" />
<text x="401.00" y="283.76" font-size="9.6" text-anchor="end" font-weight="bold" fill="#111" stroke="#111" stroke-width="0.27" >25.0</text>
<line x1="402.90" y1="274.15" x2="404.20" y2="274.15" stroke="#111" stroke-width="0.8" />
<line x1="402.20" y1="267.80" x2="404.20" y2="267.80" stroke="#111" stroke-width="1.0" />
<text x="401.00" y="271.06" font-size="9.6" text-anchor="end" font-weight="bold" fill="#111" stroke="#111" stroke-width="0.27" >25.5</text>
<line x1="402.90" y1="261.45" x2="404.20" y2="261.45" stroke="#111" stroke-width="0.8" />
<line x1="402.20" y1="255.10" x2="404.20" y2="255.10" stroke="#111" stroke-width="1.0" />
<text x="401.00" y="258.36" font-size="9.6" text-anchor="end" font-weight="bold" fill="#111" stroke="#111" stroke-width="0.27" >26.0</text>
<line x1="411.20" y1="338.00" x2="411.20" y2="340.00" stroke="#111" stroke-width="1.0" />
<text x="411.20" y="348.46" font-size="9.6" text-anchor="middle" font-weight="bold" fill="#111" stroke="#111" stroke-width="0.27" >0</text>
<line x1="421.89" y1="338.00" x2="421.89" y2="339.30" stroke="#111" stroke-width="0.8" />
<line x1="432.57" y1="338.00" x2="432.57" y2="340.00" stroke="#111" stroke-width="1.0" />
<text x="432.57" y="348.46" font-size="9.6" text-anchor="middle" font-weight="bold" fill="#111" stroke="#111" stroke-width="0.27" >15</text>
<line x1="443.26" y1="338.00" x2="443.26" y2="339.30" stroke="#111" stroke-width="0.8" />
<line x1="453.95" y1="338.00" x2="453.95" y2="340.00" stroke="#111" stroke-width="1.0" />
<text x="453.95" y="348.46" font-size="9.6" text-anchor="middle" font-weight="bold" fill="#111" stroke="#111" stroke-width="0.27" >30</text>
<line x1="464.64" y1="338.00" x2="464.64" y2="339.30" stroke="#111" stroke-width="0.8" />
<line x1="475.32" y1="338.00" x2="475.32" y2="340.00" stroke="#111" stroke-width="1.0" />
<text x="475.32" y="348.46" font-size="9.6" text-anchor="middle" font-weight="bold" fill="#111" stroke="#111" stroke-width="0.27" >45</text>
<line x1="486.01" y1="338.00" x2="486.01" y2="339.30" stroke="#111" stroke-width="0.8" />
<line x1="496.70" y1="338.00" x2="496.70" y2="340.00" stroke="#111" stroke-width="1.0" />
<text x="496.70" y="348.46" font-size="9.6" text-anchor="middle" font-weight="bold" fill="#111" stroke="#111" stroke-width="0.27" >60</text>
<line x1="507.39" y1="338.00" x2="507.39" y2="339.30" stroke="#111" stroke-width="0.8" />
<line x1="518.08" y1="338.00" x2="518.08" y2="340.00" stroke="#111" stroke-width="1.0" />
<text x="518.08" y="348.46" font-size="9.6" text-anchor="middle" font-weight="bold" fill="#111" stroke="#111" stroke-width="0.27" >75</text>
<text transform="translate(374.50 288.00) rotate(-90)" font-size="8.4" text-anchor="middle" font-weight="bold" fill="#111" stroke="#111" stroke-width="0.24" >Voltage(mV)</text>
<text x="471.00" y="358.52" font-size="8.4" text-anchor="middle" font-weight="bold" fill="#111" stroke="#111" stroke-width="0.24" >Pressure(mmHg)</text>
<line x1="411.20" y1="318.65" x2="411.20" y2="331.25" stroke="#111" stroke-width="1.5" />
<line x1="409.60" y1="318.65" x2="412.80" y2="318.65" stroke="#111" stroke-width="1.1" />
<line x1="409.60" y1="331.25" x2="412.80" y2="331.25" stroke="#111" stroke-width="1.1" />
<line x1="432.57" y1="306.20" x2="432.57" y2="318.80" stroke="#111" stroke-width="1.5" />
<line x1="430.97" y1="306.20" x2="434.18" y2="306.20" stroke="#111" stroke-width="1.1" />
<line x1="430.97" y1="318.80" x2="434.18" y2="318.80" stroke="#111" stroke-width="1.1" />
<line x1="453.95" y1="294.01" x2="453.95" y2="306.61" stroke="#111" stroke-width="1.5" />
<line x1="452.35" y1="294.01" x2="455.55" y2="294.01" stroke="#111" stroke-width="1.1" />
<line x1="452.35" y1="306.61" x2="455.55" y2="306.61" stroke="#111" stroke-width="1.1" />
<line x1="475.32" y1="281.82" x2="475.32" y2="294.42" stroke="#111" stroke-width="1.5" />
<line x1="473.72" y1="281.82" x2="476.93" y2="281.82" stroke="#111" stroke-width="1.1" />
<line x1="473.72" y1="294.42" x2="476.93" y2="294.42" stroke="#111" stroke-width="1.1" />
<line x1="496.70" y1="269.37" x2="496.70" y2="281.97" stroke="#111" stroke-width="1.5" />
<line x1="495.10" y1="269.37" x2="498.30" y2="269.37" stroke="#111" stroke-width="1.1" />
<line x1="495.10" y1="281.97" x2="498.30" y2="281.97" stroke="#111" stroke-width="1.1" />
<line x1="518.08" y1="256.93" x2="518.08" y2="269.53" stroke="#111" stroke-width="1.5" />
<line x1="516.48" y1="256.93" x2="519.68" y2="256.93" stroke="#111" stroke-width="1.1" />
<line x1="516.48" y1="269.53" x2="519.68" y2="269.53" stroke="#111" stroke-width="1.1" />
<line x1="411.20" y1="324.95" x2="518.08" y2="263.23" stroke="#f00" stroke-width="1.3" />
<path d="M484.70 303.80 A31.70 13.90 0 1 1 473.40 304.60 Q474.40 301.55 475.20 298.50 Q477.70 302.30 484.70 303.80" fill="#fff" stroke="#f44" stroke-width="0.6" stroke-dasharray="2.2 0.8 0.6 0.8" opacity="0.75"/>
<text x="472.60" y="315.41" font-size="6.7" text-anchor="middle" font-weight="bold" fill="#111" stroke="#111" stroke-width="0.20" >25.9814</text>
<text x="472.60" y="322.58" font-size="5.5" text-anchor="middle" font-weight="bold" fill="#111" stroke="#111" stroke-width="0.08" letter-spacing="0.15">mmHg</text>
<line x1="487.20" y1="313.00" x2="500.90" y2="313.00" stroke="#111" stroke-width="1.1" />
<line x1="500.40" y1="313.00" x2="500.40" y2="326.30" stroke="#111" stroke-width="1.1" />
<line x1="497.00" y1="316.90" x2="504.70" y2="316.90" stroke="#111" stroke-width="1.1" />
<line x1="497.00" y1="321.80" x2="504.70" y2="321.80" stroke="#111" stroke-width="1.1" />
<path d="M499.10 314.70 L500.40 316.90 L501.70 314.70 M499.10 324.00 L500.40 321.80 L501.70 324.00" stroke="#111" stroke-width="0.7" fill="none"/>
</svg>
</body></html>
